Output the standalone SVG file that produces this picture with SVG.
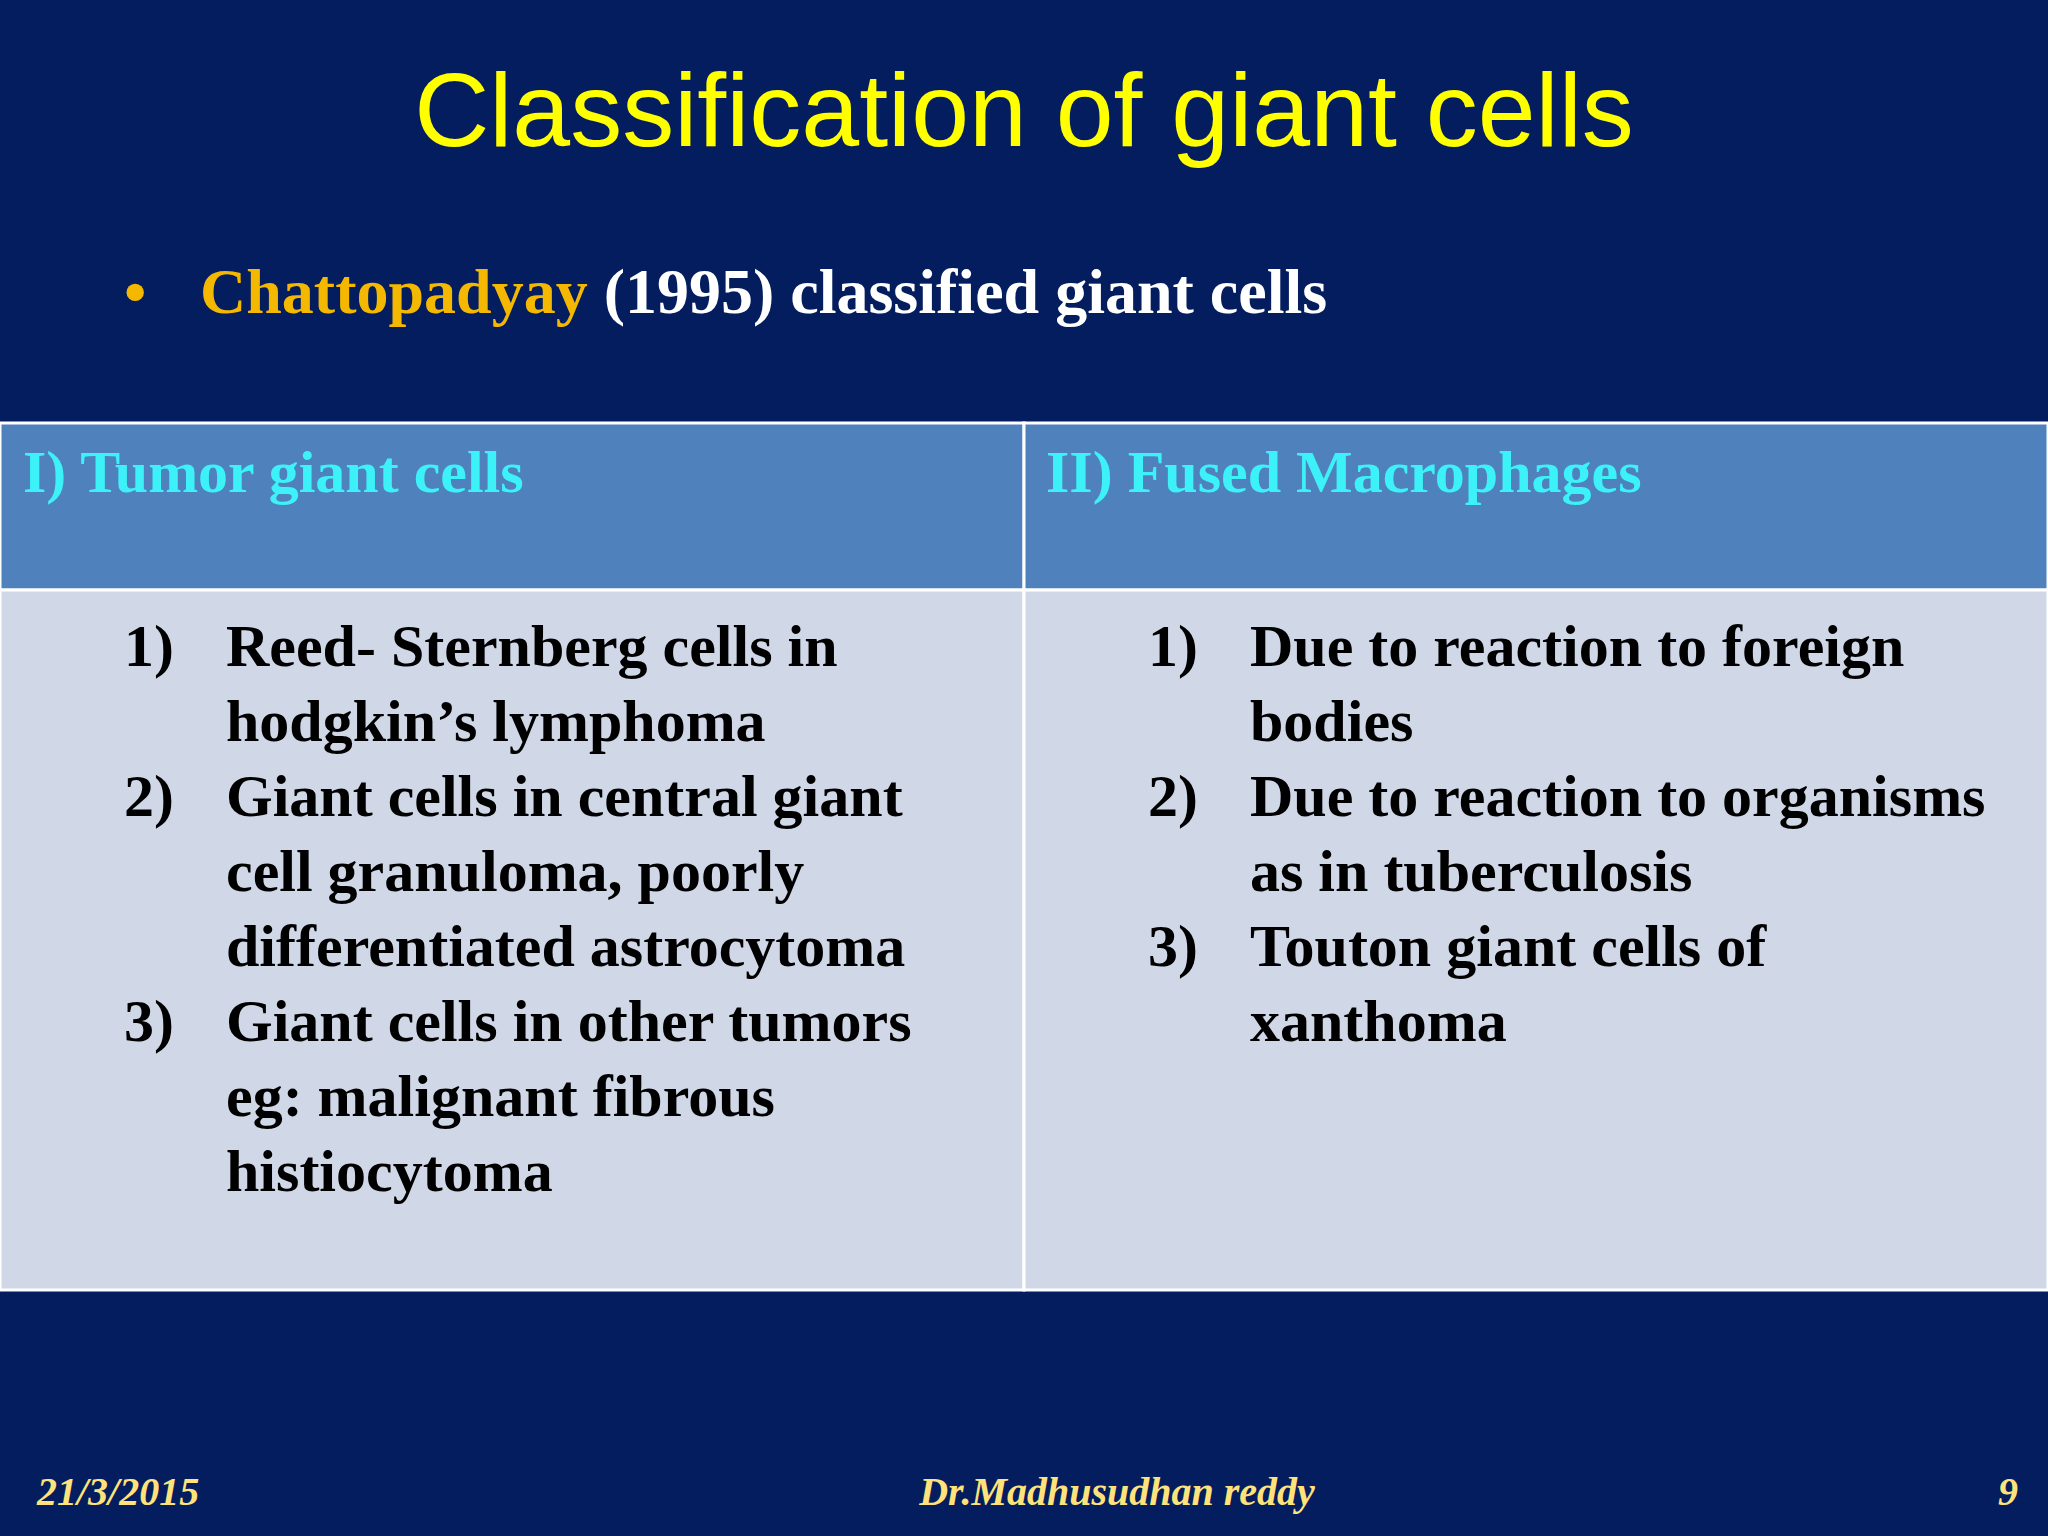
<svg xmlns="http://www.w3.org/2000/svg" width="2048" height="1536" viewBox="0 0 2048 1536">
<style>
.t{font-family:"Liberation Serif",serif;font-weight:bold;font-size:60px;fill:#000}
.h{font-family:"Liberation Serif",serif;font-weight:bold;font-size:60px;fill:#3CF2F8}
.f{font-family:"Liberation Serif",serif;font-weight:bold;font-style:italic;font-size:40px;fill:#FFE27A}
</style>
<rect width="2048" height="1536" fill="#031D5E"/>
<text x="1024" y="146" text-anchor="middle" font-family="Liberation Sans,sans-serif" font-size="104" fill="#FFFF00">Classification of giant cells</text>
<text x="124" y="313" font-family="Liberation Serif,serif" font-weight="bold" font-size="64" fill="#F5B800">•</text>
<text x="200" y="313" font-family="Liberation Serif,serif" font-weight="bold" font-size="64" fill="#fff"><tspan fill="#F5B800">Chattopadyay</tspan> (1995) classified giant cells</text>
<g id="table" stroke="#fff" stroke-width="3">
<rect x="0" y="423" width="1024" height="167" fill="#4F81BD"/>
<rect x="1024" y="423" width="1024" height="167" fill="#4F81BD"/>
<rect x="0" y="590" width="1024" height="700" fill="#D0D8E8"/>
<rect x="1024" y="590" width="1024" height="700" fill="#D0D8E8"/>
</g>
<text class="h" x="23" y="492">I) Tumor giant cells</text>
<text class="h" x="1046" y="492">II) Fused Macrophages</text>
<g class="t">
<text class="t" x="124" y="666">1)</text><text class="t" x="226" y="666">Reed- Sternberg cells in</text>
<text class="t" x="226" y="741">hodgkin’s lymphoma</text>
<text class="t" x="124" y="816">2)</text><text class="t" x="226" y="816">Giant cells in central giant</text>
<text class="t" x="226" y="891">cell granuloma, poorly</text>
<text class="t" x="226" y="966">differentiated astrocytoma</text>
<text class="t" x="124" y="1041">3)</text><text class="t" x="226" y="1041">Giant cells in other tumors</text>
<text class="t" x="226" y="1116">eg: malignant fibrous</text>
<text class="t" x="226" y="1191">histiocytoma</text>
<text class="t" x="1148" y="666">1)</text><text class="t" x="1250" y="666">Due to reaction to foreign</text>
<text class="t" x="1250" y="741">bodies</text>
<text class="t" x="1148" y="816">2)</text><text class="t" x="1250" y="816">Due to reaction to organisms</text>
<text class="t" x="1250" y="891">as in tuberculosis</text>
<text class="t" x="1148" y="966">3)</text><text class="t" x="1250" y="966">Touton giant cells of</text>
<text class="t" x="1250" y="1041">xanthoma</text>
</g>
<text class="f" x="37" y="1505">21/3/2015</text>
<text class="f" x="1117" y="1505" text-anchor="middle">Dr.Madhusudhan reddy</text>
<text class="f" x="2018" y="1505" text-anchor="end">9</text>
</svg>
